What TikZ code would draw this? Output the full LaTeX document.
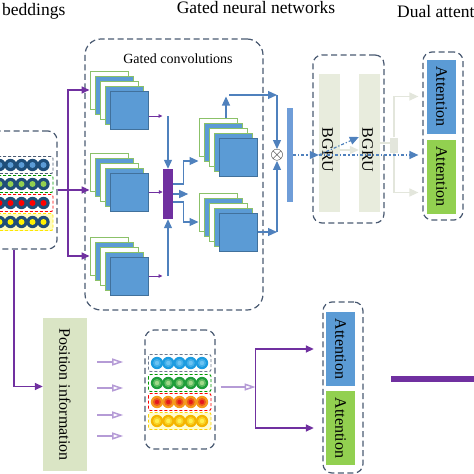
\documentclass[tikz,border=0pt]{standalone}
\usepackage{fontspec}
\setmainfont{Liberation Serif}
\usetikzlibrary{arrows.meta}

\definecolor{mapblue}{HTML}{5B9BD5}
\definecolor{mapedge}{HTML}{41719C}
\definecolor{mapgreen}{HTML}{8BC168}
\definecolor{attgreen}{HTML}{92D050}
\definecolor{gpurple}{HTML}{7030A0}
\definecolor{lpurple}{HTML}{B59BD6}
\definecolor{boxgray}{HTML}{4A5A72}
\definecolor{grufill}{HTML}{E8ECDD}
\definecolor{posfill}{HTML}{DAE5C5}
\definecolor{faint}{HTML}{E3E6DC}
\definecolor{linkblue}{HTML}{4F81BD}
\definecolor{gatefill}{HTML}{6F9DD8}
\definecolor{navy}{HTML}{1F4E79}
\definecolor{eao}{HTML}{1C9CE0}
\definecolor{eai}{HTML}{6CC4F2}
\definecolor{ebo}{HTML}{1E9E3A}
\definecolor{ebi}{HTML}{A2D98A}
\definecolor{eco}{HTML}{F59A1B}
\definecolor{eci}{HTML}{E41B1B}
\definecolor{edo}{HTML}{F4B400}
\definecolor{edi}{HTML}{FFF04D}

\begin{document}
\begin{tikzpicture}[x=1pt,y=-1pt]
    % Define styles
    \tikzstyle{group} = [rectangle, draw=boxgray, line width=1.2pt, dash pattern=on 6pt off 3.5pt, rounded corners=9pt]
    \tikzstyle{fmlayer} = [rectangle, minimum size=38pt, inner sep=0pt, draw=mapgreen, line width=1pt]
    \tikzstyle{fmap} = [fmlayer, fill=mapblue, draw=mapedge]
    \tikzstyle{gru} = [rectangle, minimum width=21pt, minimum height=138pt, inner sep=0pt, fill=grufill]
    \tikzstyle{attbox} = [rectangle, minimum width=29pt, minimum height=74pt, inner sep=0pt]
    \tikzstyle{vtext} = [rotate=-90, inner sep=0pt, font=\fontsize{16}{18}\selectfont]
    \tikzstyle{title} = [inner sep=0pt, font=\fontsize{17.5}{20}\selectfont]
    \tikzstyle{pline} = [draw=gpurple, line width=1.6pt]
    \tikzstyle{parrow} = [pline, -{Triangle[width=7pt,length=8pt]}]
    \tikzstyle{sarrow} = [draw=gpurple, line width=0.8pt, -{Triangle[width=3.5pt,length=4pt]}]
    \tikzstyle{barrow} = [draw=linkblue, line width=1.2pt, -{Triangle[width=8pt,length=9pt]}]
    \tikzstyle{ddarrow} = [barrow, dash dot]
    \tikzstyle{farrow} = [draw=faint, line width=1.2pt, -{Triangle[width=8pt,length=9pt]}]
    \tikzstyle{harrow} = [draw=lpurple, line width=1.5pt, -{Triangle[open,width=7pt,length=11pt]}]

    \useasboundingbox (0,0) rectangle (474,474);
    \clip (0,0) rectangle (474,474);

    % Titles
    \node[title, anchor=base west] (t1) at (2,15) {beddings};
    \node[title, anchor=base] (t2) at (256,13) {Gated neural networks};
    \node[title, anchor=base west] (t3) at (397,17) {Dual attent};

    % Word embeddings
    \fill[yellow!25] (-6,213.5) rectangle (53,230.5);
    \foreach \y/\rc/\dc in {165/boxgray/mapblue,184/green!60!black/attgreen,203/red/red,222/yellow!90!orange/yellow} {
        \draw[\rc, densely dashed, line width=0.9pt, rounded corners=2pt] (-6,{\y-8.5}) rectangle (53,{\y+8.5});
        \foreach \x in {0,...,4} {
            \fill[navy] ({-0.5+11*\x},\y) circle (6.2);
            \fill[\dc] ({-0.5+11*\x},\y) circle (3);
        }
    }
    \node[group, minimum width=67pt, minimum height=118pt] (emb) at (23.5,190) {};

    % Gated convolutions
    \node[group, minimum width=178pt, minimum height=271pt, rounded corners=16pt] (conv) at (174,174.5) {};
    \node[anchor=base, inner sep=0pt, font=\fontsize{14}{16}\selectfont] (convt) at (178,63) {Gated convolutions};
    \foreach \s/\bx/\by in {c1/90/71,c2/90/153,c3/90/237,c4/199/118,c5/199/193} {
        \foreach \i/\col in {0/white,1/mapblue,2/white,3/mapblue}
            \node[fmlayer, fill=\col] (\s-\i) at ({\bx+19+5*\i},{\by+19+5*\i}) {};
        \node[fmap] (\s) at ({\bx+39},{\by+39}) {};
    }
    \node[rectangle, fill=gpurple, minimum width=10pt, minimum height=50pt, inner sep=0pt] (cat) at (168,194) {};
    \node[inner sep=0pt, font=\fontsize{18}{18}\selectfont] (mul) at (277,155) {$\otimes$};
    \node[rectangle, fill=gatefill, minimum width=6pt, minimum height=94pt, inner sep=0pt] (gbar) at (290,155) {};

    % BGRU
    \node[group, minimum width=71pt, minimum height=168pt] (gbox) at (348.5,139) {};
    \node[gru] (g1) at (329.5,143) {};
    \node[gru] (g2) at (369.5,143) {};
    \node[vtext] (g1t) at (327.5,150) {BGRU};
    \node[vtext] (g2t) at (367.5,150) {BGRU};

    % Dual attention
    \node[group, minimum width=40pt, minimum height=168pt] (abox) at (443,136) {};
    \node[attbox, fill=mapblue] (att1) at (441.5,96.5) {};
    \node[attbox, fill=attgreen] (att2) at (441.5,176.5) {};
    \node[vtext] (att1t) at (att1) {Attention};
    \node[vtext] (att2t) at (att2) {Attention};

    % Embeddings to convolutions
    \coordinate (sp) at (68,190);
    \draw[pline] (emb.east) -- (sp);
    \draw[parrow] (sp) |- (c1-0.west);
    \draw[parrow] (sp) -- (sp -| c2-0.west);
    \draw[parrow] (sp) |- (c3-0.west);

    % Convolutions to concat
    \draw[sarrow] ([yshift=-6]c1.east) -- ++(14,0);
    \draw[barrow] ([yshift=-6]c1.east -| cat.north) -- (cat.north);
    \draw[sarrow] (c2.east) -- (c2.east -| cat.west);
    \draw[sarrow] (c3.east) -- ++(14,0);
    \draw[barrow] (c3.east -| cat.south) -- (cat.south);

    % Concat to gates
    \draw[barrow] (cat.east) -- ++(15,0);
    \draw[barrow] ([yshift=10]cat.east) -- ++(10,0) |- ([yshift=-24]c4-0.west);
    \draw[barrow] ([yshift=-8]cat.east) -- ++(10,0) |- ([yshift=-10]c5-0.west);

    % Gates to product
    \coordinate (up) at ([xshift=8]c4-0.north);
    \coordinate (turn) at (277,95);
    \draw[barrow] (up) -- ++(0,-21);
    \draw[barrow] ([xshift=3]up |- turn) -- (turn);
    \draw[barrow] (turn) -- (mul.north);
    \draw[barrow] (c5.east) -- (c5.east -| mul);
    \draw[barrow] (c5.east -| mul) -- (mul.south);

    % BGRU to attention
    \node[rectangle, fill=faint, minimum width=8pt, minimum height=15pt, inner sep=0pt] (jn) at (394,145) {};
    \draw[farrow] ([yshift=-7]g1.east) -- ([yshift=-7]g2.west);
    \draw[draw=faint, line width=1.2pt] (g2.east) -- (g2.east -| jn.west);
    \draw[farrow] (jn.north) |- ([xshift=-4]att1.west -| abox.west);
    \draw[farrow] (jn.south) |- ([xshift=-4,yshift=-16]att2.west -| abox.west);
    \coordinate (gin) at (gbar.east -| g1.west);
    \draw[ddarrow] (gbar.east) -- (gin);
    \draw[ddarrow] (gin) -- ([yshift=6]g2.west);
    \draw[ddarrow] (gin) -- ([xshift=-4]gbar.east -| abox.west);

    % Position information
    \node[rectangle, fill=posfill, minimum width=44pt, minimum height=153pt] (pos) at (65,394.5) {};
    \node[vtext] (post) at (pos) {Position information};
    \draw[parrow] (emb.south -| 14,0) |- ([yshift=8]pos.west);
    \foreach \d in {32.5,6.5,-20.5,-41.5}
        \draw[harrow] ([xshift=10,yshift=\d]pos.east) -- ++(26,0);

    % Position embeddings
    \fill[yellow!20] (148.5,412.5) rectangle (211,430);
    \foreach \y/\rc/\oc/\ic in {363/boxgray!80/eao/eai,383/green!60!black/ebo/ebi,402/red/eco/eci,421/yellow!70!orange/edo/edi} {
        \draw[\rc, densely dashed, line width=0.9pt, rounded corners=2pt] (148.5,{\y-8.5}) rectangle (211,{\y+8.5});
        \foreach \x in {0,...,4} {
            \fill[\oc] ({157+11.25*\x},\y) circle (6.2);
            \fill[\oc!50!\ic] ({157+11.25*\x},\y) circle (4);
            \fill[\ic] ({157+11.25*\x},\y) circle (2.2);
        }
    }
    \node[group, minimum width=70pt, minimum height=119pt] (pemb) at (180,389.5) {};

    % Second dual attention
    \node[group, minimum width=40pt, minimum height=171pt] (pabox) at (343,387.5) {};
    \node[attbox, fill=mapblue] (patt1) at (340.5,349) {};
    \node[attbox, fill=attgreen] (patt2) at (340.5,428) {};
    \node[vtext] (patt1t) at (patt1) {Attention};
    \node[vtext] (patt2t) at (patt2) {Attention};
    \draw[harrow] ([xshift=5,yshift=2.5]pemb.east) -- ++(35,0) coordinate (pj);
    \draw[parrow] (pj) |- ([xshift=-12]patt1.west);
    \draw[parrow] (pj) |- ([xshift=-12]patt2.west);

    \node[rectangle, fill=gpurple, minimum width=84pt, minimum height=6pt, inner sep=0pt] (pbar) at (433,379) {};

\end{tikzpicture}
\end{document}
